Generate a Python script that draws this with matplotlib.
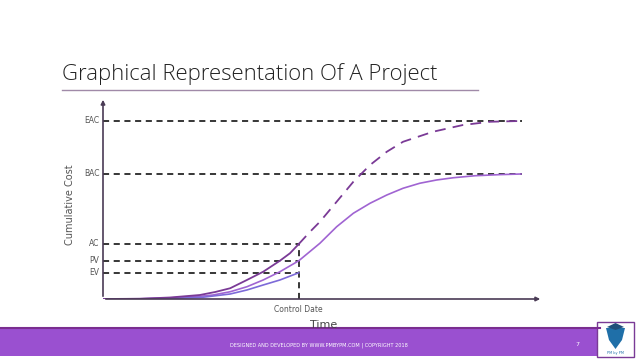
import matplotlib
matplotlib.use('Agg')
import matplotlib.pyplot as plt
from matplotlib.patches import Rectangle, Polygon

# planned value (PV) curve
pv_t = [0, 0.84, 1.52, 2.27, 2.5, 2.89, 3.27, 3.64, 4.02, 4.45, 4.93, 5.31, 5.69, 6.07,
        6.45, 6.82, 7.2, 7.58, 7.96, 8.45, 9.02, 9.5]
pv_c = [0, 0.2, 0.8, 2.4, 3.2, 5.8, 9.8, 15.2, 21.8, 30.6, 44.6, 57.8, 68.6, 76.6,
        83.2, 88.6, 92.6, 95.2, 97.0, 98.6, 99.5, 100]

# actual cost up to control date, then the forecast to EAC
ac_t = [0, 0.84, 1.52, 2.2, 2.55, 2.89, 3.27, 3.64, 4.02, 4.25, 4.45]
ac_c = [0, 0.2, 1.2, 3.2, 5.6, 8.6, 15.2, 21.8, 30.6, 36.6, 44]
eac_t = [4.45, 4.7, 4.93, 5.31, 5.69, 6.07, 6.45, 6.82, 7.5, 8.18, 8.8, 9.48]
eac_c = [44, 53.6, 61.8, 77.8, 93.8, 107.2, 117.8, 125.8, 133.8, 139.2, 141.8, 142.4]

# earned value up to control date
ev_t = [0, 0.84, 1.52, 2.27, 2.89, 3.27, 3.64, 4.02, 4.45]
ev_c = [0, 0.1, 0.4, 1.4, 4.0, 7.2, 11.2, 15.2, 21.0]

levels = {'EAC': 142.4, 'BAC': 100, 'AC': 44, 'PV': 30.6, 'EV': 21}
control_date = 4.45
t_end = 9.52

W, H = 638, 359
fig = plt.figure(figsize=(W / 100, H / 100), dpi=100)


def fx(px):
    return px / W


def fy(py):
    return 1 - py / H


ax = fig.add_axes([fx(103), fy(299), 440 / W, 202 / H])
ax.set_xlim(0, 10)
ax.set_ylim(0, 161.6)
ax.axis('off')

axis_col = '#4a3b55'
ax.annotate('', xy=(10, 0), xytext=(0, 0),
            arrowprops=dict(arrowstyle='-|>', color=axis_col, lw=1.2, mutation_scale=6),
            annotation_clip=False)
ax.annotate('', xy=(0, 161.6), xytext=(0, 0),
            arrowprops=dict(arrowstyle='-|>', color=axis_col, lw=1.2, mutation_scale=6),
            annotation_clip=False)

# reference dashed lines
for name, val in levels.items():
    xmax = t_end if name in ('EAC', 'BAC') else control_date
    ax.plot([0, xmax], [val, val], color='black', lw=1.1, ls=(0, (4, 3)))
    ax.text(-0.08, val, name, ha='right', va='center', fontsize=5.5, color='#555555')
ax.plot([control_date, control_date], [0, levels['AC']], color='black', lw=1.1, ls=(0, (4, 3)))

ax.plot(pv_t, pv_c, color='#a064d2', lw=1.2, solid_joinstyle='round')
ax.plot(ev_t, ev_c, color='#7d6ad8', lw=1.2, solid_joinstyle='round')
ax.plot(ac_t, ac_c, color='#7a3a96', lw=1.3, solid_joinstyle='round')
ax.plot(eac_t, eac_c, color='#7a3a96', lw=1.3, ls=(0, (6, 4)))

ax.text(control_date, -5, 'Control Date', ha='center', va='top', fontsize=5.5, color='#555555')

fig.text(fx(70), fy(205), 'Cumulative Cost', rotation=90, ha='center', va='center',
         fontsize=7, color='#555555')
fig.text(fx(324), fy(325), 'Time', ha='center', va='center', fontsize=8, color='#444444')

# title and underline
fig.text(fx(62), fy(80), 'Graphical Representation Of A Project', ha='left', va='baseline',
         fontsize=15.9, color='#222222', family='Open Sans', weight='light')
fig.add_artist(plt.Line2D([fx(62), fx(478)], [fy(90), fy(90)], color='#a08aa8', lw=1))

# footer band
fig.add_artist(Rectangle((0, fy(356)), fx(600), (356 - 328) / H, transform=fig.transFigure,
                         facecolor='#9a50d0', edgecolor='none'))
fig.add_artist(plt.Line2D([0, fx(600)], [fy(328), fy(328)], color='#7a2d90', lw=1.5))
fig.text(fx(319), fy(345), 'DESIGNED AND DEVELOPED BY WWW.PMBYPM.COM | COPYRIGHT 2018',
         ha='center', va='center', fontsize=3.6, color='white')
fig.text(fx(577), fy(345), '7', ha='center', va='center', fontsize=4.5, color='white')

# logo box
fig.add_artist(Rectangle((fx(597), fy(357)), 37 / W, 35 / H, transform=fig.transFigure,
                         facecolor='white', edgecolor='#7a3a96', lw=1))
fig.add_artist(Polygon([[fx(606), fy(328)], [fx(625), fy(328)], [fx(622), fy(340)],
                        [fx(615.5), fy(349)], [fx(609), fy(340)]],
                       closed=True, transform=fig.transFigure, facecolor='#1f6fa8',
                       edgecolor='none'))
fig.add_artist(Polygon([[fx(607), fy(327)], [fx(615.5), fy(323)], [fx(624), fy(327)],
                        [fx(615.5), fy(330)]],
                       closed=True, transform=fig.transFigure, facecolor='#1f4f7a',
                       edgecolor='none'))
fig.text(fx(615.5), fy(353), 'PM by PM', ha='center', va='center', fontsize=2.5, color='#1f6fa8')

fig.savefig('out.png', dpi=100)
